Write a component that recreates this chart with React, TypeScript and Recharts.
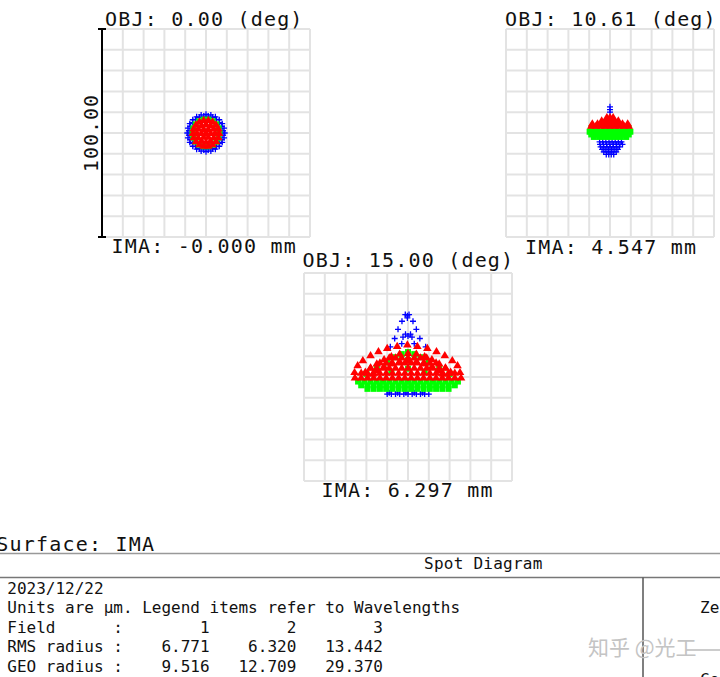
import React from "react";
import { ScatterChart, Scatter, XAxis, YAxis, CartesianGrid } from "recharts";

// spot coordinates in µm, image plane centred on the chief ray
const gridTicks = [-50, -40, -30, -20, -10, 0, 10, 20, 30, 40, 50];
const axisDomain = [-50, 50];

const f1Blue = [
  [9, 0], [8.69, 2.33], [7.79, 4.5], [6.36, 6.36], [4.5, 7.79], [2.33, 8.69],
  [0, 9], [-2.33, 8.69], [-4.5, 7.79], [-6.36, 6.36], [-7.79, 4.5], [-8.69, 2.33],
  [-9, 0], [-8.69, -2.33], [-7.79, -4.5], [-6.36, -6.36], [-4.5, -7.79], [-2.33, -8.69],
  [0, -9], [2.33, -8.69], [4.5, -7.79], [6.36, -6.36], [7.79, -4.5], [8.69, -2.33],
  [8.13, 1.07], [7.58, 3.14], [6.5, 4.99], [4.99, 6.5], [3.14, 7.58], [1.07, 8.13],
  [-1.07, 8.13], [-3.14, 7.58], [-4.99, 6.5], [-6.5, 4.99], [-7.58, 3.14], [-8.13, 1.07],
  [-8.13, -1.07], [-7.58, -3.14], [-6.5, -4.99], [-4.99, -6.5], [-3.14, -7.58], [-1.07, -8.13],
  [1.07, -8.13], [3.14, -7.58], [4.99, -6.5], [6.5, -4.99], [7.58, -3.14], [8.13, -1.07],
];
const f1Green = [
  [6.5, 0], [6.11, 2.22], [4.98, 4.18], [3.25, 5.63], [1.13, 6.4], [-1.13, 6.4],
  [-3.25, 5.63], [-4.98, 4.18], [-6.11, 2.22], [-6.5, 0], [-6.11, -2.22], [-4.98, -4.18],
  [-3.25, -5.63], [-1.13, -6.4], [1.13, -6.4], [3.25, -5.63], [4.98, -4.18], [6.11, -2.22],
];
const f1Red = [
  [0, 0],
  [2.2, 0], [1.1, 1.91], [-1.1, 1.91], [-2.2, 0], [-1.1, -1.91], [1.1, -1.91],
  [4.3, 0], [3.72, 2.15], [2.15, 3.72], [0, 4.3], [-2.15, 3.72], [-3.72, 2.15],
  [-4.3, 0], [-3.72, -2.15], [-2.15, -3.72], [0, -4.3], [2.15, -3.72], [3.72, -2.15],
  [6.3, 0], [5.92, 2.15], [4.83, 4.05], [3.15, 5.46], [1.1, 6.2], [-1.1, 6.2],
  [-3.15, 5.46], [-4.83, 4.05], [-5.92, 2.15], [-6.3, 0], [-5.92, -2.15], [-4.83, -4.05],
  [-3.15, -5.46], [-1.1, -6.2], [1.1, -6.2], [3.15, -5.46], [4.83, -4.05], [5.92, -2.15],
];

const f2Blue = [
  [0, 12.6], [0, 11.2], [0, 10],
  [-5, -4.3], [-3.5, -4.3], [-2, -4.3], [-0.5, -4.3], [1, -4.3], [2.5, -4.3], [4, -4.3], [5.5, -4.3],
  [-4.8, -5.5], [-3.2, -5.5], [-1.6, -5.5], [0, -5.5], [1.6, -5.5], [3.2, -5.5], [4.8, -5.5], [6, -5.5],
  [-4.5, -6.7], [-3, -6.7], [-1.5, -6.7], [0, -6.7], [1.5, -6.7], [3, -6.7], [4.5, -6.7],
  [-3.8, -7.9], [-2.3, -7.9], [-0.8, -7.9], [0.8, -7.9], [2.3, -7.9], [3.8, -7.9],
  [-3, -9.1], [-1.5, -9.1], [0, -9.1], [1.5, -9.1], [3, -9.1],
  [-1.8, -10.3], [-0.6, -10.3], [0.6, -10.3], [1.8, -10.3],
];
const f2Green = [
  [-9, 2.2], [-6, 2.2], [-3, 2.2], [0, 2.2], [3, 2.2], [6, 2.2], [9, 2.2],
  [-9.8, 0.6], [-7.5, 0.6], [-5, 0.6], [-2.5, 0.6], [0, 0.6], [2.5, 0.6], [5, 0.6], [7.5, 0.6], [9.8, 0.6],
  [-9, -0.7], [-7, -0.7], [-5, -0.7], [-3, -0.7], [-1, -0.7], [1, -0.7], [3, -0.7], [5, -0.7], [7, -0.7], [9, -0.7],
  [-7.8, -1.9], [-5.2, -1.9], [-2.6, -1.9], [0, -1.9], [2.6, -1.9], [5.2, -1.9], [7.8, -1.9],
];
const f2Red = [
  [-1.5, 7.6], [0, 7.6], [1.5, 7.6],
  [-4, 6], [-2, 6], [0, 6], [2, 6], [4, 6],
  [-8.5, 4.6], [-6, 4.6], [-3.5, 4.6], [-1, 4.6], [1, 4.6], [3.5, 4.6], [6, 4.6], [8.5, 4.6],
  [-9, 3.4], [-6.75, 3.4], [-4.5, 3.4], [-2.25, 3.4], [0, 3.4], [2.25, 3.4], [4.5, 3.4], [6.75, 3.4], [9, 3.4],
];

const f3Blue = [
  [-0.3, 29.4], [-1.3, 30], [0.5, 30], [-0.3, 28.4], [-2.9, 26.8], [2.4, 26.8],
  [-4.8, 22.9], [4, 22.9], [-1.2, 20.6], [1.2, 20.6], [-6.4, 18.5], [-2.4, 19.2],
  [0, 19.7], [1.9, 19.2], [5.7, 18.5], [-3, 16], [3, 16], [-8.5, 14.5], [8.5, 14.5],
  [-10, -8.2], [-8, -8.2], [-6, -8.2], [-4, -8.2], [-2, -8.2], [0, -8.2],
  [2, -8.2], [4, -8.2], [6, -8.2], [8, -8.2], [10, -8.2],
  [-9, -7.6], [-5, -7.6], [-1, -7.6], [3, -7.6], [7, -7.6],
];
const f3Green = [
  [0, 12], [-3, 11], [3, 11], [-6, 9.5], [6, 9.5], [0, 8], [-10, 7], [10, 7],
  [-15, 4], [15, 4], [0, 4], [-8, 2.5], [8, 2.5], [-20, 1.5], [20, 1.5],
  [-24, -2.2], [-21, -2.2], [-18, -2.2], [-15, -2.2], [-12, -2.2], [-9, -2.2], [-6, -2.2], [-3, -2.2], [0, -2.2],
  [3, -2.2], [6, -2.2], [9, -2.2], [12, -2.2], [15, -2.2], [18, -2.2], [21, -2.2], [24, -2.2],
  [-22.5, -4], [-19.5, -4], [-16.5, -4], [-13.5, -4], [-10.5, -4], [-7.5, -4], [-4.5, -4], [-1.5, -4],
  [1.5, -4], [4.5, -4], [7.5, -4], [10.5, -4], [13.5, -4], [16.5, -4], [19.5, -4], [22.5, -4],
  [-19.5, -5.7], [-16.5, -5.7], [-13.5, -5.7], [-10.5, -5.7], [-7.5, -5.7], [-4.5, -5.7], [-1.5, -5.7],
  [1.5, -5.7], [4.5, -5.7], [7.5, -5.7], [10.5, -5.7], [13.5, -5.7], [16.5, -5.7], [19.5, -5.7],
];
const f3Red = [
  // outer rim
  [-0.3, 15.6], [-5.2, 14.9], [4.5, 14.9], [-10, 13.9], [9.3, 13.9], [-14.2, 12.3], [13.7, 12.3],
  [-18, 10.4], [17.7, 10.4], [-21.7, 8], [21.3, 8], [-24.2, 5.6], [23.8, 5.6], [-25.7, 2.3], [25, 2.3],
  // inner arcs
  [0, 11.5], [-4, 11.2], [4, 11.2], [-8, 10], [8, 10], [-11.5, 8.5], [11.5, 8.5],
  [-15, 6.5], [15, 6.5], [-18, 4.5], [18, 4.5], [-20.5, 2.5], [20.5, 2.5],
  [0, 8], [-4, 7.5], [4, 7.5], [-8, 6.5], [8, 6.5], [-11.5, 5], [11.5, 5],
  [-14.5, 3.2], [14.5, 3.2], [-17, 1.5], [17, 1.5],
  // core
  [-9, 9.3], [-6, 9.3], [-3, 9.3], [0, 9.3], [3, 9.3], [6, 9.3], [9, 9.3],
  [-13.5, 6.9], [-10.5, 6.9], [-7.5, 6.9], [-4.5, 6.9], [-1.5, 6.9], [1.5, 6.9], [4.5, 6.9], [7.5, 6.9], [10.5, 6.9], [13.5, 6.9],
  [-18, 4.4], [-15, 4.4], [-12, 4.4], [-9, 4.4], [-6, 4.4], [-3, 4.4], [0, 4.4],
  [3, 4.4], [6, 4.4], [9, 4.4], [12, 4.4], [15, 4.4], [18, 4.4],
  [-22.5, 2], [-19.5, 2], [-16.5, 2], [-13.5, 2], [-10.5, 2], [-7.5, 2], [-4.5, 2], [-1.5, 2],
  [1.5, 2], [4.5, 2], [7.5, 2], [10.5, 2], [13.5, 2], [16.5, 2], [19.5, 2], [22.5, 2],
  [-25.5, -0.3], [-22.5, -0.3], [-19.5, -0.3], [-16.5, -0.3], [-13.5, -0.3], [-10.5, -0.3],
  [-7.5, -0.3], [-4.5, -0.3], [-1.5, -0.3], [1.5, -0.3], [4.5, -0.3], [7.5, -0.3],
  [10.5, -0.3], [13.5, -0.3], [16.5, -0.3], [19.5, -0.3], [22.5, -0.3], [25.5, -0.3],
];

const tableLines = [
  "2023/12/22",
  "Units are µm. Legend items refer to Wavelengths",
  "Field      :        1        2        3",
  "RMS radius :    6.771    6.320   13.442",
  "GEO radius :    9.516   12.709   29.370",
];

const BLUE = "#0000ff";
const GREEN = "#00ff00";
const RED = "#ff0000";
const MONO = "'DejaVu Sans Mono', monospace";

const toPoints = (arr: number[][]) => arr.map(([x, y]) => ({ x, y }));

const plusShape = (props: any) => {
  const { cx, cy } = props;
  if (cx == null || cy == null) return <g />;
  return (
    <path
      d={`M${cx - 3},${cy}H${cx + 3}M${cx},${cy - 3}V${cy + 3}`}
      stroke={BLUE}
      strokeWidth={1.3}
      fill="none"
    />
  );
};

const squareShape = (props: any) => {
  const { cx, cy } = props;
  if (cx == null || cy == null) return <g />;
  return <rect x={cx - 3} y={cy - 3} width={6} height={6} fill={GREEN} />;
};

const triangleShape = (props: any) => {
  const { cx, cy } = props;
  if (cx == null || cy == null) return <g />;
  return (
    <polygon
      points={`${cx},${cy - 4.3} ${cx - 4.3},${cy + 2.9} ${cx + 4.3},${cy + 2.9}`}
      fill={RED}
    />
  );
};

// ticks are kept (the grid follows them) but draw nothing
const blankTick = () => <g />;

// the scale bar only shows caps at the two ends
const capTick = (props: any) => {
  const { x, y, payload } = props;
  if (Math.abs(payload.value) !== 50) return <g />;
  return <line x1={x + 2} x2={x + 10} y1={y} y2={y} stroke="#000" strokeWidth={2} />;
};

type PanelProps = {
  left: number;
  top: number;
  blue: number[][];
  green: number[][];
  red: number[][];
  axis?: boolean;
};

const SpotPanel = ({ left, top, blue, green, red, axis }: PanelProps) => {
  const barW = axis ? 10 : 0;
  return (
    <div style={{ position: "absolute", left: left - 2 - barW, top: top - 2 }}>
      <ScatterChart
        width={212 + barW}
        height={212}
        margin={{ top: 2, right: 2, bottom: 2, left: 2 }}
      >
        <CartesianGrid stroke="#e3e3e3" strokeWidth={2} syncWithTicks />
        <XAxis
          type="number"
          dataKey="x"
          domain={axisDomain}
          ticks={gridTicks}
          interval={0}
          height={0}
          axisLine={false}
          tickLine={false}
          tick={blankTick}
        />
        <YAxis
          type="number"
          dataKey="y"
          domain={axisDomain}
          ticks={gridTicks}
          interval={0}
          width={barW}
          axisLine={axis ? { stroke: "#000", strokeWidth: 2 } : false}
          tickLine={false}
          tickSize={4}
          tickMargin={2}
          tick={axis ? capTick : blankTick}
        />
        <Scatter data={toPoints(blue)} shape={plusShape} isAnimationActive={false} />
        <Scatter data={toPoints(green)} shape={squareShape} isAnimationActive={false} />
        <Scatter data={toPoints(red)} shape={triangleShape} isAnimationActive={false} />
      </ScatterChart>
    </div>
  );
};

const bigText = { fontFamily: MONO, fontSize: 20, letterSpacing: 1.2, fill: "#111" };
const smallText = { fontFamily: MONO, fontSize: 16, fill: "#111", whiteSpace: "pre" as const };

export default function App() {
  return (
    <div
      style={{
        position: "absolute",
        left: 0,
        top: 0,
        width: 720,
        height: 677,
        overflow: "hidden",
        background: "#fff",
      }}
    >
      <SpotPanel left={102} top={29} blue={f1Blue} green={f1Green} red={f1Red} axis />
      <SpotPanel left={506} top={28.5} blue={f2Blue} green={f2Green} red={f2Red} />
      <SpotPanel left={304} top={272.5} blue={f3Blue} green={f3Green} red={f3Red} />

      <svg
        width={720}
        height={677}
        style={{ position: "absolute", left: 0, top: 0, pointerEvents: "none" }}
      >
        <text x={105} y={26} style={bigText}>OBJ: 0.00 (deg)</text>
        <text x={111.5} y={253} style={bigText}>IMA: -0.000 mm</text>
        <text x={505} y={26} style={bigText}>OBJ: 10.61 (deg)</text>
        <text x={525} y={254} style={bigText}>IMA: 4.547 mm</text>
        <text x={302.5} y={267} style={bigText}>OBJ: 15.00 (deg)</text>
        <text x={321.5} y={497} style={bigText}>IMA: 6.297 mm</text>
        <text
          x={98}
          y={133}
          transform="rotate(-90 98 133)"
          textAnchor="middle"
          style={{ ...bigText, letterSpacing: 1 }}
        >
          100.00
        </text>

        <text x={-3.7} y={551} style={bigText}>Surface: IMA</text>
        <line x1={0} y1={553.5} x2={720} y2={553.5} stroke="#999" strokeWidth={1.5} />
        <text x={424} y={569} style={{ ...smallText, letterSpacing: 0.25 }}>Spot Diagram</text>
        <line x1={0} y1={577.5} x2={720} y2={577.5} stroke="#777" strokeWidth={1.5} />
        <line x1={643} y1={577.5} x2={643} y2={677} stroke="#555" strokeWidth={1.5} />
        {tableLines.map((t, i) => (
          <text key={i} x={7.3} y={594 + i * 19.45} style={smallText} xmlSpace="preserve">
            {t}
          </text>
        ))}
        <text x={700} y={612.7} style={smallText}>Ze</text>
        <text x={700} y={685} style={smallText}>Co</text>
        <line x1={686} y1={650} x2={720} y2={650} stroke="#999" strokeWidth={1.2} />
        <text
          x={588}
          y={655}
          style={{ fontFamily: "'Noto Sans CJK SC'", fontSize: 21, fill: "#c4c4c4" }}
        >
          知乎 @光工
        </text>
      </svg>
    </div>
  );
}
